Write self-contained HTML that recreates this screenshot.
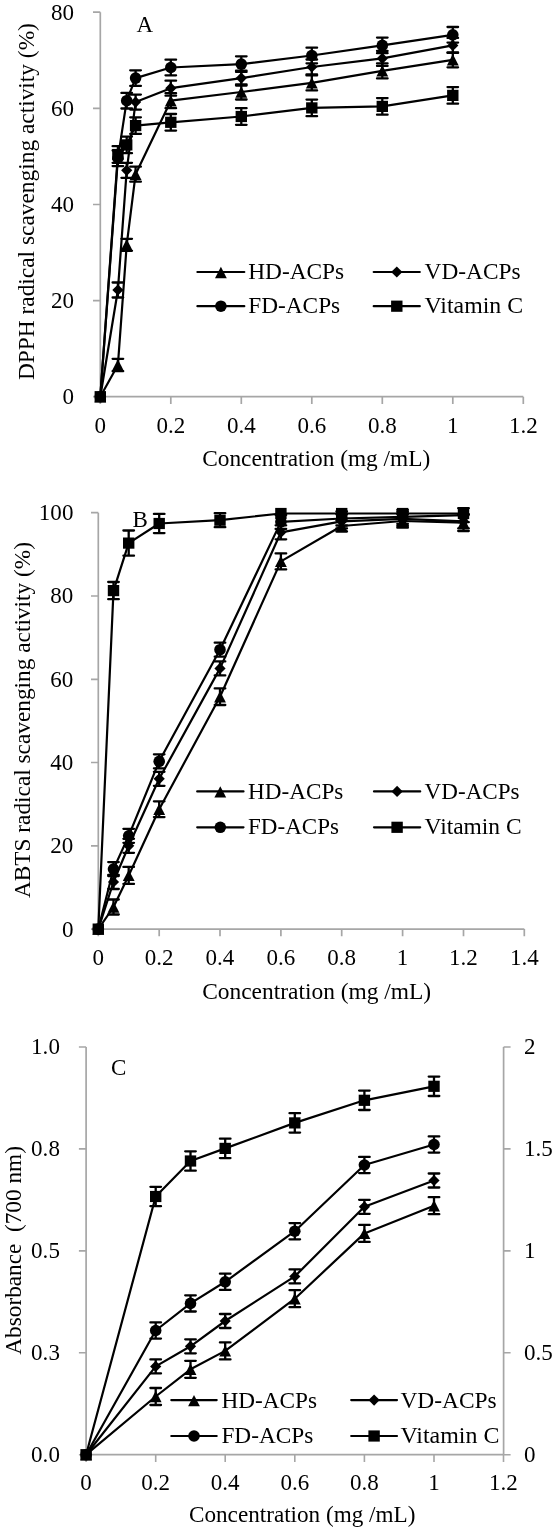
<!DOCTYPE html>
<html><head><meta charset="utf-8"><title>Antioxidant activity charts</title>
<style>html,body{margin:0;padding:0;background:#fff}svg{display:block}text{font-family:"Liberation Serif", "Times New Roman", serif;fill:#000;white-space:pre}</style>
</head><body>
<svg width="556" height="1531" viewBox="0 0 556 1531">
<rect width="556" height="1531" fill="#fff"/>
<path d="M100.3,12.2V396.7H523.3" fill="none" stroke="#a6a6a6" stroke-width="1.7"/>
<path d="M93.0,396.7H100.3M93.0,300.6H100.3M93.0,204.5H100.3M93.0,108.3H100.3M93.0,12.2H100.3M100.3,396.7V403.9M170.8,396.7V403.9M241.3,396.7V403.9M311.8,396.7V403.9M382.3,396.7V403.9M452.8,396.7V403.9M523.3,396.7V403.9" fill="none" stroke="#a6a6a6" stroke-width="1.7"/>
<text x="74" y="404.1" font-size="24.1" text-anchor="end" textLength="11.52" lengthAdjust="spacingAndGlyphs">0</text>
<text x="74" y="308.0" font-size="24.1" text-anchor="end" textLength="23.03" lengthAdjust="spacingAndGlyphs">20</text>
<text x="74" y="211.9" font-size="24.1" text-anchor="end" textLength="23.03" lengthAdjust="spacingAndGlyphs">40</text>
<text x="74" y="115.7" font-size="24.1" text-anchor="end" textLength="23.03" lengthAdjust="spacingAndGlyphs">60</text>
<text x="74" y="19.6" font-size="24.1" text-anchor="end" textLength="23.03" lengthAdjust="spacingAndGlyphs">80</text>
<text x="100.3" y="432.6" font-size="24.1" text-anchor="middle" textLength="11.52" lengthAdjust="spacingAndGlyphs">0</text>
<text x="170.8" y="432.6" font-size="24.1" text-anchor="middle" textLength="28.79" lengthAdjust="spacingAndGlyphs">0.2</text>
<text x="241.3" y="432.6" font-size="24.1" text-anchor="middle" textLength="28.79" lengthAdjust="spacingAndGlyphs">0.4</text>
<text x="311.8" y="432.6" font-size="24.1" text-anchor="middle" textLength="28.79" lengthAdjust="spacingAndGlyphs">0.6</text>
<text x="382.3" y="432.6" font-size="24.1" text-anchor="middle" textLength="28.79" lengthAdjust="spacingAndGlyphs">0.8</text>
<text x="452.8" y="432.6" font-size="24.1" text-anchor="middle" textLength="11.52" lengthAdjust="spacingAndGlyphs">1</text>
<text x="523.3" y="432.6" font-size="24.1" text-anchor="middle" textLength="28.79" lengthAdjust="spacingAndGlyphs">1.2</text>
<text x="316.2" y="466.3" font-size="24" text-anchor="middle" textLength="228" lengthAdjust="spacingAndGlyphs">Concentration (mg /mL)</text>
<text x="34.2" y="201.6" font-size="24" text-anchor="middle" textLength="357" lengthAdjust="spacingAndGlyphs" transform="rotate(-90 34.2 201.6)">DPPH radical scavenging activity (%)</text>
<text x="136.5" y="31.6" font-size="24" textLength="16.63" lengthAdjust="spacingAndGlyphs">A</text>
<path d="M100.3,396.7 L117.9,365.0 L126.7,244.8 L135.6,174.2 L170.8,100.7 L241.3,92.0 L311.8,82.9 L382.3,70.9 L452.8,59.8" fill="none" stroke="#000" stroke-width="2.2" stroke-linejoin="round" stroke-linecap="round"/>
<path d="M117.9,365.0V358.8M112.6,358.8H123.2M117.9,365.0V371.2M112.6,371.2H123.2M126.7,244.8V238.8M121.4,238.8H132.0M126.7,244.8V250.8M121.4,250.8H132.0M135.6,174.2V166.7M130.2,166.7H140.9M135.6,174.2V181.7M130.2,181.7H140.9M170.8,100.7V93.2M165.5,93.2H176.1M170.8,100.7V108.2M165.5,108.2H176.1M241.3,92.0V84.5M236.0,84.5H246.6M241.3,92.0V99.5M236.0,99.5H246.6M311.8,82.9V75.4M306.5,75.4H317.1M311.8,82.9V90.4M306.5,90.4H317.1M382.3,70.9V63.4M377.0,63.4H387.6M382.3,70.9V78.4M377.0,78.4H387.6M452.8,59.8V52.3M447.5,52.3H458.1M452.8,59.8V67.3M447.5,67.3H458.1" fill="none" stroke="#000" stroke-width="2.3" stroke-linecap="round"/>
<path d="M100.3,391.0 L106.2,402.4 L94.4,402.4 Z" fill="#000"/>
<path d="M117.9,359.3 L123.8,370.7 L112.0,370.7 Z" fill="#000"/>
<path d="M126.7,239.1 L132.6,250.5 L120.8,250.5 Z" fill="#000"/>
<path d="M135.6,168.5 L141.5,179.9 L129.7,179.9 Z" fill="#000"/>
<path d="M170.8,95.0 L176.7,106.4 L164.9,106.4 Z" fill="#000"/>
<path d="M241.3,86.3 L247.2,97.7 L235.4,97.7 Z" fill="#000"/>
<path d="M311.8,77.2 L317.7,88.6 L305.9,88.6 Z" fill="#000"/>
<path d="M382.3,65.2 L388.2,76.6 L376.4,76.6 Z" fill="#000"/>
<path d="M452.8,54.1 L458.7,65.5 L446.9,65.5 Z" fill="#000"/>
<path d="M100.3,396.7 L117.9,290.0 L126.7,170.3 L135.6,102.1 L170.8,88.2 L241.3,78.1 L311.8,67.0 L382.3,58.4 L452.8,45.4" fill="none" stroke="#000" stroke-width="2.2" stroke-linejoin="round" stroke-linecap="round"/>
<path d="M117.9,290.0V282.5M112.6,282.5H123.2M117.9,290.0V297.5M112.6,297.5H123.2M126.7,170.3V162.8M121.4,162.8H132.0M126.7,170.3V177.8M121.4,177.8H132.0M135.6,102.1V94.6M130.2,94.6H140.9M135.6,102.1V109.6M130.2,109.6H140.9M170.8,88.2V80.7M165.5,80.7H176.1M170.8,88.2V95.7M165.5,95.7H176.1M241.3,78.1V70.6M236.0,70.6H246.6M241.3,78.1V85.6M236.0,85.6H246.6M311.8,67.0V59.5M306.5,59.5H317.1M311.8,67.0V74.5M306.5,74.5H317.1M382.3,58.4V50.9M377.0,50.9H387.6M382.3,58.4V65.9M377.0,65.9H387.6M452.8,45.4V37.9M447.5,37.9H458.1M452.8,45.4V52.9M447.5,52.9H458.1" fill="none" stroke="#000" stroke-width="2.3" stroke-linecap="round"/>
<path d="M100.3,391.1 L105.9,396.7 L100.3,402.3 L94.7,396.7 Z" fill="#000"/>
<path d="M117.9,284.4 L123.5,290.0 L117.9,295.6 L112.3,290.0 Z" fill="#000"/>
<path d="M126.7,164.7 L132.3,170.3 L126.7,175.9 L121.1,170.3 Z" fill="#000"/>
<path d="M135.6,96.5 L141.2,102.1 L135.6,107.7 L130.0,102.1 Z" fill="#000"/>
<path d="M170.8,82.6 L176.4,88.2 L170.8,93.8 L165.2,88.2 Z" fill="#000"/>
<path d="M241.3,72.5 L246.9,78.1 L241.3,83.7 L235.7,78.1 Z" fill="#000"/>
<path d="M311.8,61.4 L317.4,67.0 L311.8,72.6 L306.2,67.0 Z" fill="#000"/>
<path d="M382.3,52.8 L387.9,58.4 L382.3,64.0 L376.7,58.4 Z" fill="#000"/>
<path d="M452.8,39.8 L458.4,45.4 L452.8,51.0 L447.2,45.4 Z" fill="#000"/>
<path d="M100.3,396.7 L117.9,158.3 L126.7,100.7 L135.6,78.1 L170.8,67.5 L241.3,64.1 L311.8,55.5 L382.3,45.4 L452.8,34.8" fill="none" stroke="#000" stroke-width="2.2" stroke-linejoin="round" stroke-linecap="round"/>
<path d="M117.9,158.3V150.5M112.6,150.5H123.2M117.9,158.3V166.1M112.6,166.1H123.2M126.7,100.7V92.9M121.4,92.9H132.0M126.7,100.7V108.5M121.4,108.5H132.0M135.6,78.1V70.3M130.2,70.3H140.9M135.6,78.1V85.9M130.2,85.9H140.9M170.8,67.5V59.7M165.5,59.7H176.1M170.8,67.5V75.3M165.5,75.3H176.1M241.3,64.1V56.3M236.0,56.3H246.6M241.3,64.1V71.9M236.0,71.9H246.6M311.8,55.5V47.7M306.5,47.7H317.1M311.8,55.5V63.3M306.5,63.3H317.1M382.3,45.4V37.6M377.0,37.6H387.6M382.3,45.4V53.2M377.0,53.2H387.6M452.8,34.8V27.0M447.5,27.0H458.1M452.8,34.8V42.6M447.5,42.6H458.1" fill="none" stroke="#000" stroke-width="2.3" stroke-linecap="round"/>
<circle cx="100.3" cy="396.7" r="5.8" fill="#000"/>
<circle cx="117.9" cy="158.3" r="5.8" fill="#000"/>
<circle cx="126.7" cy="100.7" r="5.8" fill="#000"/>
<circle cx="135.6" cy="78.1" r="5.8" fill="#000"/>
<circle cx="170.8" cy="67.5" r="5.8" fill="#000"/>
<circle cx="241.3" cy="64.1" r="5.8" fill="#000"/>
<circle cx="311.8" cy="55.5" r="5.8" fill="#000"/>
<circle cx="382.3" cy="45.4" r="5.8" fill="#000"/>
<circle cx="452.8" cy="34.8" r="5.8" fill="#000"/>
<path d="M100.3,396.7 L117.9,154.5 L126.7,144.9 L135.6,125.6 L170.8,122.3 L241.3,116.5 L311.8,107.9 L382.3,106.4 L452.8,95.4" fill="none" stroke="#000" stroke-width="2.2" stroke-linejoin="round" stroke-linecap="round"/>
<path d="M117.9,154.5V146.2M112.6,146.2H123.2M117.9,154.5V162.8M112.6,162.8H123.2M126.7,144.9V136.6M121.4,136.6H132.0M126.7,144.9V153.2M121.4,153.2H132.0M135.6,125.6V117.3M130.2,117.3H140.9M135.6,125.6V133.9M130.2,133.9H140.9M170.8,122.3V114.0M165.5,114.0H176.1M170.8,122.3V130.6M165.5,130.6H176.1M241.3,116.5V108.2M236.0,108.2H246.6M241.3,116.5V124.8M236.0,124.8H246.6M311.8,107.9V99.6M306.5,99.6H317.1M311.8,107.9V116.2M306.5,116.2H317.1M382.3,106.4V98.1M377.0,98.1H387.6M382.3,106.4V114.7M377.0,114.7H387.6M452.8,95.4V87.1M447.5,87.1H458.1M452.8,95.4V103.7M447.5,103.7H458.1" fill="none" stroke="#000" stroke-width="2.3" stroke-linecap="round"/>
<rect x="94.6" y="391.1" width="11.4" height="11.2" fill="#000"/>
<rect x="112.2" y="148.9" width="11.4" height="11.2" fill="#000"/>
<rect x="121.0" y="139.3" width="11.4" height="11.2" fill="#000"/>
<rect x="129.9" y="120.0" width="11.4" height="11.2" fill="#000"/>
<rect x="165.1" y="116.7" width="11.4" height="11.2" fill="#000"/>
<rect x="235.6" y="110.9" width="11.4" height="11.2" fill="#000"/>
<rect x="306.1" y="102.3" width="11.4" height="11.2" fill="#000"/>
<rect x="376.6" y="100.8" width="11.4" height="11.2" fill="#000"/>
<rect x="447.1" y="89.8" width="11.4" height="11.2" fill="#000"/>
<path d="M197.4,272H244.3" stroke="#000" stroke-width="2.2" stroke-linecap="round"/>
<path d="M220.9,266.8 L226.8,278.2 L215.0,278.2 Z" fill="#000"/>
<text x="248.2" y="279.4" font-size="23.8" textLength="96" lengthAdjust="spacingAndGlyphs">HD-ACPs</text>
<path d="M373.7,272H419.8" stroke="#000" stroke-width="2.2" stroke-linecap="round"/>
<path d="M396.8,266.4 L402.4,272.0 L396.8,277.6 L391.1,272.0 Z" fill="#000"/>
<text x="424.6" y="279.4" font-size="23.8" textLength="96" lengthAdjust="spacingAndGlyphs">VD-ACPs</text>
<path d="M197.4,306.2H244.3" stroke="#000" stroke-width="2.2" stroke-linecap="round"/>
<circle cx="220.9" cy="306.2" r="5.8" fill="#000"/>
<text x="248.2" y="313.0" font-size="23.8" textLength="92" lengthAdjust="spacingAndGlyphs">FD-ACPs</text>
<path d="M373.7,306.2H419.8" stroke="#000" stroke-width="2.2" stroke-linecap="round"/>
<rect x="391.1" y="300.6" width="11.4" height="11.2" fill="#000"/>
<text x="424.6" y="313.0" font-size="23.8" textLength="98.5" lengthAdjust="spacingAndGlyphs">Vitamin C</text>
<path d="M98.3,512.7V929.1H524.3" fill="none" stroke="#a6a6a6" stroke-width="1.7"/>
<path d="M91.0,929.1H98.3M91.0,845.8H98.3M91.0,762.5H98.3M91.0,679.3H98.3M91.0,596.0H98.3M91.0,512.7H98.3M98.3,929.1V936.3000000000001M159.2,929.1V936.3000000000001M220.0,929.1V936.3000000000001M280.9,929.1V936.3000000000001M341.7,929.1V936.3000000000001M402.6,929.1V936.3000000000001M463.5,929.1V936.3000000000001M524.3,929.1V936.3000000000001" fill="none" stroke="#a6a6a6" stroke-width="1.7"/>
<text x="73.4" y="936.5" font-size="24.1" text-anchor="end" textLength="11.52" lengthAdjust="spacingAndGlyphs">0</text>
<text x="73.4" y="853.2" font-size="24.1" text-anchor="end" textLength="23.03" lengthAdjust="spacingAndGlyphs">20</text>
<text x="73.4" y="769.9" font-size="24.1" text-anchor="end" textLength="23.03" lengthAdjust="spacingAndGlyphs">40</text>
<text x="73.4" y="686.7" font-size="24.1" text-anchor="end" textLength="23.03" lengthAdjust="spacingAndGlyphs">60</text>
<text x="73.4" y="603.4" font-size="24.1" text-anchor="end" textLength="23.03" lengthAdjust="spacingAndGlyphs">80</text>
<text x="73.4" y="520.1" font-size="24.1" text-anchor="end" textLength="34.55" lengthAdjust="spacingAndGlyphs">100</text>
<text x="98.3" y="964.6" font-size="24.1" text-anchor="middle" textLength="11.52" lengthAdjust="spacingAndGlyphs">0</text>
<text x="159.2" y="964.6" font-size="24.1" text-anchor="middle" textLength="28.79" lengthAdjust="spacingAndGlyphs">0.2</text>
<text x="220.0" y="964.6" font-size="24.1" text-anchor="middle" textLength="28.79" lengthAdjust="spacingAndGlyphs">0.4</text>
<text x="280.9" y="964.6" font-size="24.1" text-anchor="middle" textLength="28.79" lengthAdjust="spacingAndGlyphs">0.6</text>
<text x="341.7" y="964.6" font-size="24.1" text-anchor="middle" textLength="28.79" lengthAdjust="spacingAndGlyphs">0.8</text>
<text x="402.6" y="964.6" font-size="24.1" text-anchor="middle" textLength="11.52" lengthAdjust="spacingAndGlyphs">1</text>
<text x="463.5" y="964.6" font-size="24.1" text-anchor="middle" textLength="28.79" lengthAdjust="spacingAndGlyphs">1.2</text>
<text x="524.3" y="964.6" font-size="24.1" text-anchor="middle" textLength="28.79" lengthAdjust="spacingAndGlyphs">1.4</text>
<text x="316.65" y="999.1" font-size="24" text-anchor="middle" textLength="229" lengthAdjust="spacingAndGlyphs">Concentration (mg /mL)</text>
<text x="30.3" y="720.1" font-size="24" text-anchor="middle" textLength="356" lengthAdjust="spacingAndGlyphs" transform="rotate(-90 30.3 720.1)">ABTS radical scavenging activity (%)</text>
<text x="132.5" y="526.6" font-size="24" textLength="15.36" lengthAdjust="spacingAndGlyphs">B</text>
<path d="M98.3,929.1 L113.5,907.0 L128.7,875.4 L159.2,809.2 L220.0,696.7 L280.9,561.4 L341.7,526.0 L402.6,521.0 L463.5,522.7" fill="none" stroke="#000" stroke-width="2.2" stroke-linejoin="round" stroke-linecap="round"/>
<path d="M113.5,907.0V899.5M108.2,899.5H118.8M113.5,907.0V914.5M108.2,914.5H118.8M128.7,875.4V866.9M123.4,866.9H134.0M128.7,875.4V883.9M123.4,883.9H134.0M159.2,809.2V801.3M153.9,801.3H164.5M159.2,809.2V817.1M153.9,817.1H164.5M220.0,696.7V688.4M214.7,688.4H225.3M220.0,696.7V705.0M214.7,705.0H225.3M280.9,561.4V553.4M275.6,553.4H286.2M280.9,561.4V569.4M275.6,569.4H286.2M341.7,526.0V520.5M336.4,520.5H347.0M341.7,526.0V531.5M336.4,531.5H347.0M402.6,521.0V514.3M397.3,514.3H407.9M402.6,521.0V527.7M397.3,527.7H407.9M463.5,522.7V514.4M458.2,514.4H468.8M463.5,522.7V531.0M458.2,531.0H468.8" fill="none" stroke="#000" stroke-width="2.3" stroke-linecap="round"/>
<path d="M98.3,923.4 L104.2,934.8 L92.4,934.8 Z" fill="#000"/>
<path d="M113.5,901.3 L119.4,912.7 L107.6,912.7 Z" fill="#000"/>
<path d="M128.7,869.7 L134.6,881.1 L122.8,881.1 Z" fill="#000"/>
<path d="M159.2,803.5 L165.1,814.9 L153.3,814.9 Z" fill="#000"/>
<path d="M220.0,691.0 L225.9,702.4 L214.1,702.4 Z" fill="#000"/>
<path d="M280.9,555.7 L286.8,567.1 L275.0,567.1 Z" fill="#000"/>
<path d="M341.7,520.3 L347.6,531.7 L335.8,531.7 Z" fill="#000"/>
<path d="M402.6,515.3 L408.5,526.7 L396.7,526.7 Z" fill="#000"/>
<path d="M463.5,517.0 L469.4,528.4 L457.6,528.4 Z" fill="#000"/>
<path d="M98.3,929.1 L113.5,882.0 L128.7,845.8 L159.2,778.8 L220.0,668.4 L280.9,532.3 L341.7,521.4 L402.6,518.9 L463.5,521.4" fill="none" stroke="#000" stroke-width="2.2" stroke-linejoin="round" stroke-linecap="round"/>
<path d="M113.5,882.0V875.0M108.2,875.0H118.8M113.5,882.0V889.0M108.2,889.0H118.8M128.7,845.8V838.8M123.4,838.8H134.0M128.7,845.8V852.8M123.4,852.8H134.0M159.2,778.8V771.8M153.9,771.8H164.5M159.2,778.8V785.8M153.9,785.8H164.5M220.0,668.4V661.4M214.7,661.4H225.3M220.0,668.4V675.4M214.7,675.4H225.3M280.9,532.3V525.3M275.6,525.3H286.2M280.9,532.3V539.3M275.6,539.3H286.2M341.7,521.4V514.4M336.4,514.4H347.0M341.7,521.4V528.4M336.4,528.4H347.0M402.6,518.9V511.9M397.3,511.9H407.9M402.6,518.9V525.9M397.3,525.9H407.9M463.5,521.4V514.4M458.2,514.4H468.8M463.5,521.4V528.4M458.2,528.4H468.8" fill="none" stroke="#000" stroke-width="2.3" stroke-linecap="round"/>
<path d="M98.3,923.5 L103.9,929.1 L98.3,934.7 L92.7,929.1 Z" fill="#000"/>
<path d="M113.5,876.4 L119.1,882.0 L113.5,887.6 L107.9,882.0 Z" fill="#000"/>
<path d="M128.7,840.2 L134.3,845.8 L128.7,851.4 L123.1,845.8 Z" fill="#000"/>
<path d="M159.2,773.2 L164.8,778.8 L159.2,784.4 L153.6,778.8 Z" fill="#000"/>
<path d="M220.0,662.8 L225.6,668.4 L220.0,674.0 L214.4,668.4 Z" fill="#000"/>
<path d="M280.9,526.7 L286.5,532.3 L280.9,537.9 L275.3,532.3 Z" fill="#000"/>
<path d="M341.7,515.8 L347.3,521.4 L341.7,527.0 L336.1,521.4 Z" fill="#000"/>
<path d="M402.6,513.3 L408.2,518.9 L402.6,524.5 L397.0,518.9 Z" fill="#000"/>
<path d="M463.5,515.8 L469.1,521.4 L463.5,527.0 L457.9,521.4 Z" fill="#000"/>
<path d="M98.3,929.1 L113.5,869.1 L128.7,835.8 L159.2,761.3 L220.0,649.7 L280.9,521.9 L341.7,518.5 L402.6,516.9 L463.5,515.2" fill="none" stroke="#000" stroke-width="2.2" stroke-linejoin="round" stroke-linecap="round"/>
<path d="M113.5,869.1V862.1M108.2,862.1H118.8M113.5,869.1V876.1M108.2,876.1H118.8M128.7,835.8V828.8M123.4,828.8H134.0M128.7,835.8V842.8M123.4,842.8H134.0M159.2,761.3V754.3M153.9,754.3H164.5M159.2,761.3V768.3M153.9,768.3H164.5M220.0,649.7V642.7M214.7,642.7H225.3M220.0,649.7V656.7M214.7,656.7H225.3M280.9,521.9V514.9M275.6,514.9H286.2M280.9,521.9V528.9M275.6,528.9H286.2M341.7,518.5V511.5M336.4,511.5H347.0M341.7,518.5V525.5M336.4,525.5H347.0M402.6,516.9V509.9M397.3,509.9H407.9M402.6,516.9V523.9M397.3,523.9H407.9M463.5,515.2V508.2M458.2,508.2H468.8M463.5,515.2V522.2M458.2,522.2H468.8" fill="none" stroke="#000" stroke-width="2.3" stroke-linecap="round"/>
<circle cx="98.3" cy="929.1" r="5.8" fill="#000"/>
<circle cx="113.5" cy="869.1" r="5.8" fill="#000"/>
<circle cx="128.7" cy="835.8" r="5.8" fill="#000"/>
<circle cx="159.2" cy="761.3" r="5.8" fill="#000"/>
<circle cx="220.0" cy="649.7" r="5.8" fill="#000"/>
<circle cx="280.9" cy="521.9" r="5.8" fill="#000"/>
<circle cx="341.7" cy="518.5" r="5.8" fill="#000"/>
<circle cx="402.6" cy="516.9" r="5.8" fill="#000"/>
<circle cx="463.5" cy="515.2" r="5.8" fill="#000"/>
<path d="M98.3,929.1 L113.5,590.6 L128.7,543.1 L159.2,523.5 L220.0,520.2 L280.9,513.5 L341.7,513.5 L402.6,513.5 L463.5,513.5" fill="none" stroke="#000" stroke-width="2.2" stroke-linejoin="round" stroke-linecap="round"/>
<path d="M113.5,590.6V582.0M108.2,582.0H118.8M113.5,590.6V599.2M108.2,599.2H118.8M128.7,543.1V530.5M123.4,530.5H134.0M128.7,543.1V555.7M123.4,555.7H134.0M159.2,523.5V513.9M153.9,513.9H164.5M159.2,523.5V533.1M153.9,533.1H164.5M220.0,520.2V513.2M214.7,513.2H225.3M220.0,520.2V527.2M214.7,527.2H225.3" fill="none" stroke="#000" stroke-width="2.3" stroke-linecap="round"/>
<rect x="92.6" y="923.5" width="11.4" height="11.2" fill="#000"/>
<rect x="107.8" y="585.0" width="11.4" height="11.2" fill="#000"/>
<rect x="123.0" y="537.5" width="11.4" height="11.2" fill="#000"/>
<rect x="153.5" y="517.9" width="11.4" height="11.2" fill="#000"/>
<rect x="214.3" y="514.6" width="11.4" height="11.2" fill="#000"/>
<rect x="275.2" y="507.9" width="11.4" height="11.2" fill="#000"/>
<rect x="336.0" y="507.9" width="11.4" height="11.2" fill="#000"/>
<rect x="396.9" y="507.9" width="11.4" height="11.2" fill="#000"/>
<rect x="457.8" y="507.9" width="11.4" height="11.2" fill="#000"/>
<path d="M197.2,791.4H243.5" stroke="#000" stroke-width="2.2" stroke-linecap="round"/>
<path d="M220.3,786.2 L226.2,797.6 L214.4,797.6 Z" fill="#000"/>
<text x="248" y="798.6" font-size="23.8" textLength="95.4" lengthAdjust="spacingAndGlyphs">HD-ACPs</text>
<path d="M374,791.4H420.2" stroke="#000" stroke-width="2.2" stroke-linecap="round"/>
<path d="M397.1,785.8 L402.7,791.4 L397.1,797.0 L391.5,791.4 Z" fill="#000"/>
<text x="424.6" y="798.6" font-size="23.8" textLength="95" lengthAdjust="spacingAndGlyphs">VD-ACPs</text>
<path d="M197.2,827.3H243.5" stroke="#000" stroke-width="2.2" stroke-linecap="round"/>
<circle cx="220.3" cy="827.3" r="5.8" fill="#000"/>
<text x="248" y="834.4" font-size="23.8" textLength="91" lengthAdjust="spacingAndGlyphs">FD-ACPs</text>
<path d="M374,827.3H420.2" stroke="#000" stroke-width="2.2" stroke-linecap="round"/>
<rect x="391.4" y="821.7" width="11.4" height="11.2" fill="#000"/>
<text x="424.6" y="834.4" font-size="23.8" textLength="97" lengthAdjust="spacingAndGlyphs">Vitamin C</text>
<path d="M86.1,1047.0V1454.7H503.6" fill="none" stroke="#a6a6a6" stroke-width="1.7"/>
<path d="M503.6,1047.0V1454.7" fill="none" stroke="#a6a6a6" stroke-width="1.7"/>
<path d="M78.89999999999999,1454.7H86.1M503.6,1454.7H510.6M78.89999999999999,1352.8H86.1M503.6,1352.8H510.6M78.89999999999999,1250.9H86.1M503.6,1250.9H510.6M78.89999999999999,1148.9H86.1M503.6,1148.9H510.6M78.89999999999999,1047.0H86.1M503.6,1047.0H510.6M86.1,1454.7V1461.9M155.7,1454.7V1461.9M225.2,1454.7V1461.9M294.8,1454.7V1461.9M364.4,1454.7V1461.9M434.0,1454.7V1461.9M503.5,1454.7V1461.9" fill="none" stroke="#a6a6a6" stroke-width="1.6"/>
<text x="59.9" y="1462.1" font-size="24.1" text-anchor="end" textLength="28.79" lengthAdjust="spacingAndGlyphs">0.0</text>
<text x="59.9" y="1360.2" font-size="24.1" text-anchor="end" textLength="28.79" lengthAdjust="spacingAndGlyphs">0.3</text>
<text x="59.9" y="1258.3" font-size="24.1" text-anchor="end" textLength="28.79" lengthAdjust="spacingAndGlyphs">0.5</text>
<text x="59.9" y="1156.3" font-size="24.1" text-anchor="end" textLength="28.79" lengthAdjust="spacingAndGlyphs">0.8</text>
<text x="59.9" y="1054.4" font-size="24.1" text-anchor="end" textLength="28.79" lengthAdjust="spacingAndGlyphs">1.0</text>
<text x="524" y="1461.7" font-size="24.1" textLength="11.52" lengthAdjust="spacingAndGlyphs">0</text>
<text x="524" y="1359.8" font-size="24.1" textLength="28.79" lengthAdjust="spacingAndGlyphs">0.5</text>
<text x="524" y="1257.9" font-size="24.1" textLength="11.52" lengthAdjust="spacingAndGlyphs">1</text>
<text x="524" y="1155.9" font-size="24.1" textLength="28.79" lengthAdjust="spacingAndGlyphs">1.5</text>
<text x="524" y="1054.0" font-size="24.1" textLength="11.52" lengthAdjust="spacingAndGlyphs">2</text>
<text x="86.1" y="1489.8" font-size="24.1" text-anchor="middle" textLength="11.52" lengthAdjust="spacingAndGlyphs">0</text>
<text x="155.7" y="1489.8" font-size="24.1" text-anchor="middle" textLength="28.79" lengthAdjust="spacingAndGlyphs">0.2</text>
<text x="225.2" y="1489.8" font-size="24.1" text-anchor="middle" textLength="28.79" lengthAdjust="spacingAndGlyphs">0.4</text>
<text x="294.8" y="1489.8" font-size="24.1" text-anchor="middle" textLength="28.79" lengthAdjust="spacingAndGlyphs">0.6</text>
<text x="364.4" y="1489.8" font-size="24.1" text-anchor="middle" textLength="28.79" lengthAdjust="spacingAndGlyphs">0.8</text>
<text x="434.0" y="1489.8" font-size="24.1" text-anchor="middle" textLength="11.52" lengthAdjust="spacingAndGlyphs">1</text>
<text x="503.5" y="1489.8" font-size="24.1" text-anchor="middle" textLength="28.79" lengthAdjust="spacingAndGlyphs">1.2</text>
<text x="302.2" y="1521.8" font-size="24" text-anchor="middle" textLength="226.4" lengthAdjust="spacingAndGlyphs">Concentration (mg /mL)</text>
<text x="21.2" y="1250.4" font-size="24" text-anchor="middle" textLength="208.6" lengthAdjust="spacingAndGlyphs" transform="rotate(-90 21.2 1250.4)">Absorbance  (700 nm)</text>
<text x="110.9" y="1074.6" font-size="24" textLength="15.36" lengthAdjust="spacingAndGlyphs">C</text>
<path d="M86.1,1454.7 L155.7,1396.5 L190.5,1369.3 L225.2,1350.9 L294.8,1298.7 L364.4,1233.4 L434.0,1205.7" fill="none" stroke="#000" stroke-width="2.2" stroke-linejoin="round" stroke-linecap="round"/>
<path d="M155.7,1396.5V1388.0M150.4,1388.0H161.0M155.7,1396.5V1405.0M150.4,1405.0H161.0M190.5,1369.3V1360.8M185.2,1360.8H195.8M190.5,1369.3V1377.8M185.2,1377.8H195.8M225.2,1350.9V1342.4M219.9,1342.4H230.5M225.2,1350.9V1359.4M219.9,1359.4H230.5M294.8,1298.7V1290.2M289.5,1290.2H300.1M294.8,1298.7V1307.2M289.5,1307.2H300.1M364.4,1233.4V1224.9M359.1,1224.9H369.7M364.4,1233.4V1241.9M359.1,1241.9H369.7M434.0,1205.7V1197.2M428.7,1197.2H439.3M434.0,1205.7V1214.2M428.7,1214.2H439.3" fill="none" stroke="#000" stroke-width="2.3" stroke-linecap="round"/>
<path d="M86.1,1449.0 L92.0,1460.4 L80.2,1460.4 Z" fill="#000"/>
<path d="M155.7,1390.8 L161.6,1402.2 L149.8,1402.2 Z" fill="#000"/>
<path d="M190.5,1363.6 L196.4,1375.0 L184.6,1375.0 Z" fill="#000"/>
<path d="M225.2,1345.2 L231.1,1356.6 L219.3,1356.6 Z" fill="#000"/>
<path d="M294.8,1293.0 L300.7,1304.4 L288.9,1304.4 Z" fill="#000"/>
<path d="M364.4,1227.7 L370.3,1239.1 L358.5,1239.1 Z" fill="#000"/>
<path d="M434.0,1200.0 L439.9,1211.4 L428.1,1211.4 Z" fill="#000"/>
<path d="M86.1,1454.7 L155.7,1366.4 L190.5,1346.3 L225.2,1321.0 L294.8,1276.4 L364.4,1206.8 L434.0,1180.5" fill="none" stroke="#000" stroke-width="2.2" stroke-linejoin="round" stroke-linecap="round"/>
<path d="M155.7,1366.4V1359.4M150.4,1359.4H161.0M155.7,1366.4V1373.4M150.4,1373.4H161.0M190.5,1346.3V1339.3M185.2,1339.3H195.8M190.5,1346.3V1353.3M185.2,1353.3H195.8M225.2,1321.0V1314.0M219.9,1314.0H230.5M225.2,1321.0V1328.0M219.9,1328.0H230.5M294.8,1276.4V1269.4M289.5,1269.4H300.1M294.8,1276.4V1283.4M289.5,1283.4H300.1M364.4,1206.8V1199.8M359.1,1199.8H369.7M364.4,1206.8V1213.8M359.1,1213.8H369.7M434.0,1180.5V1173.5M428.7,1173.5H439.3M434.0,1180.5V1187.5M428.7,1187.5H439.3" fill="none" stroke="#000" stroke-width="2.3" stroke-linecap="round"/>
<path d="M86.1,1449.1 L91.7,1454.7 L86.1,1460.3 L80.5,1454.7 Z" fill="#000"/>
<path d="M155.7,1360.8 L161.3,1366.4 L155.7,1372.0 L150.1,1366.4 Z" fill="#000"/>
<path d="M190.5,1340.7 L196.1,1346.3 L190.5,1351.9 L184.9,1346.3 Z" fill="#000"/>
<path d="M225.2,1315.4 L230.8,1321.0 L225.2,1326.6 L219.6,1321.0 Z" fill="#000"/>
<path d="M294.8,1270.8 L300.4,1276.4 L294.8,1282.0 L289.2,1276.4 Z" fill="#000"/>
<path d="M364.4,1201.2 L370.0,1206.8 L364.4,1212.4 L358.8,1206.8 Z" fill="#000"/>
<path d="M434.0,1174.9 L439.6,1180.5 L434.0,1186.1 L428.4,1180.5 Z" fill="#000"/>
<path d="M86.1,1454.7 L155.7,1330.5 L190.5,1303.4 L225.2,1281.8 L294.8,1231.2 L364.4,1165.0 L434.0,1144.5" fill="none" stroke="#000" stroke-width="2.2" stroke-linejoin="round" stroke-linecap="round"/>
<path d="M155.7,1330.5V1322.4M150.4,1322.4H161.0M155.7,1330.5V1338.6M150.4,1338.6H161.0M190.5,1303.4V1295.3M185.2,1295.3H195.8M190.5,1303.4V1311.5M185.2,1311.5H195.8M225.2,1281.8V1273.7M219.9,1273.7H230.5M225.2,1281.8V1289.9M219.9,1289.9H230.5M294.8,1231.2V1223.1M289.5,1223.1H300.1M294.8,1231.2V1239.3M289.5,1239.3H300.1M364.4,1165.0V1156.9M359.1,1156.9H369.7M364.4,1165.0V1173.1M359.1,1173.1H369.7M434.0,1144.5V1136.4M428.7,1136.4H439.3M434.0,1144.5V1152.6M428.7,1152.6H439.3" fill="none" stroke="#000" stroke-width="2.3" stroke-linecap="round"/>
<circle cx="86.1" cy="1454.7" r="5.8" fill="#000"/>
<circle cx="155.7" cy="1330.5" r="5.8" fill="#000"/>
<circle cx="190.5" cy="1303.4" r="5.8" fill="#000"/>
<circle cx="225.2" cy="1281.8" r="5.8" fill="#000"/>
<circle cx="294.8" cy="1231.2" r="5.8" fill="#000"/>
<circle cx="364.4" cy="1165.0" r="5.8" fill="#000"/>
<circle cx="434.0" cy="1144.5" r="5.8" fill="#000"/>
<path d="M86.1,1454.7 L155.7,1196.5 L190.5,1161.0 L225.2,1148.4 L294.8,1122.9 L364.4,1100.3 L434.0,1086.3" fill="none" stroke="#000" stroke-width="2.2" stroke-linejoin="round" stroke-linecap="round"/>
<path d="M155.7,1196.5V1186.8M150.4,1186.8H161.0M155.7,1196.5V1206.2M150.4,1206.2H161.0M190.5,1161.0V1151.3M185.2,1151.3H195.8M190.5,1161.0V1170.7M185.2,1170.7H195.8M225.2,1148.4V1138.7M219.9,1138.7H230.5M225.2,1148.4V1158.1M219.9,1158.1H230.5M294.8,1122.9V1113.2M289.5,1113.2H300.1M294.8,1122.9V1132.6M289.5,1132.6H300.1M364.4,1100.3V1090.6M359.1,1090.6H369.7M364.4,1100.3V1110.0M359.1,1110.0H369.7M434.0,1086.3V1076.6M428.7,1076.6H439.3M434.0,1086.3V1096.0M428.7,1096.0H439.3" fill="none" stroke="#000" stroke-width="2.3" stroke-linecap="round"/>
<rect x="80.4" y="1449.1" width="11.4" height="11.2" fill="#000"/>
<rect x="150.0" y="1190.9" width="11.4" height="11.2" fill="#000"/>
<rect x="184.8" y="1155.4" width="11.4" height="11.2" fill="#000"/>
<rect x="219.5" y="1142.8" width="11.4" height="11.2" fill="#000"/>
<rect x="289.1" y="1117.3" width="11.4" height="11.2" fill="#000"/>
<rect x="358.7" y="1094.7" width="11.4" height="11.2" fill="#000"/>
<rect x="428.3" y="1080.7" width="11.4" height="11.2" fill="#000"/>
<path d="M171.3,1400.1H216.7" stroke="#000" stroke-width="2.2" stroke-linecap="round"/>
<path d="M194.0,1394.9 L199.9,1406.3 L188.1,1406.3 Z" fill="#000"/>
<text x="221.4" y="1407.6" font-size="23.8" textLength="95.6" lengthAdjust="spacingAndGlyphs">HD-ACPs</text>
<path d="M351.2,1400.1H397" stroke="#000" stroke-width="2.2" stroke-linecap="round"/>
<path d="M374.1,1394.5 L379.7,1400.1 L374.1,1405.7 L368.5,1400.1 Z" fill="#000"/>
<text x="400.4" y="1407.6" font-size="23.8" textLength="96.3" lengthAdjust="spacingAndGlyphs">VD-ACPs</text>
<path d="M171.3,1436.0H216.7" stroke="#000" stroke-width="2.2" stroke-linecap="round"/>
<circle cx="194.0" cy="1436.0" r="5.8" fill="#000"/>
<text x="221.4" y="1443.4" font-size="23.8" textLength="92" lengthAdjust="spacingAndGlyphs">FD-ACPs</text>
<path d="M351.2,1436.0H397" stroke="#000" stroke-width="2.2" stroke-linecap="round"/>
<rect x="368.4" y="1430.4" width="11.4" height="11.2" fill="#000"/>
<text x="400.4" y="1443.4" font-size="23.8" textLength="99" lengthAdjust="spacingAndGlyphs">Vitamin C</text>
</svg>
</body></html>
